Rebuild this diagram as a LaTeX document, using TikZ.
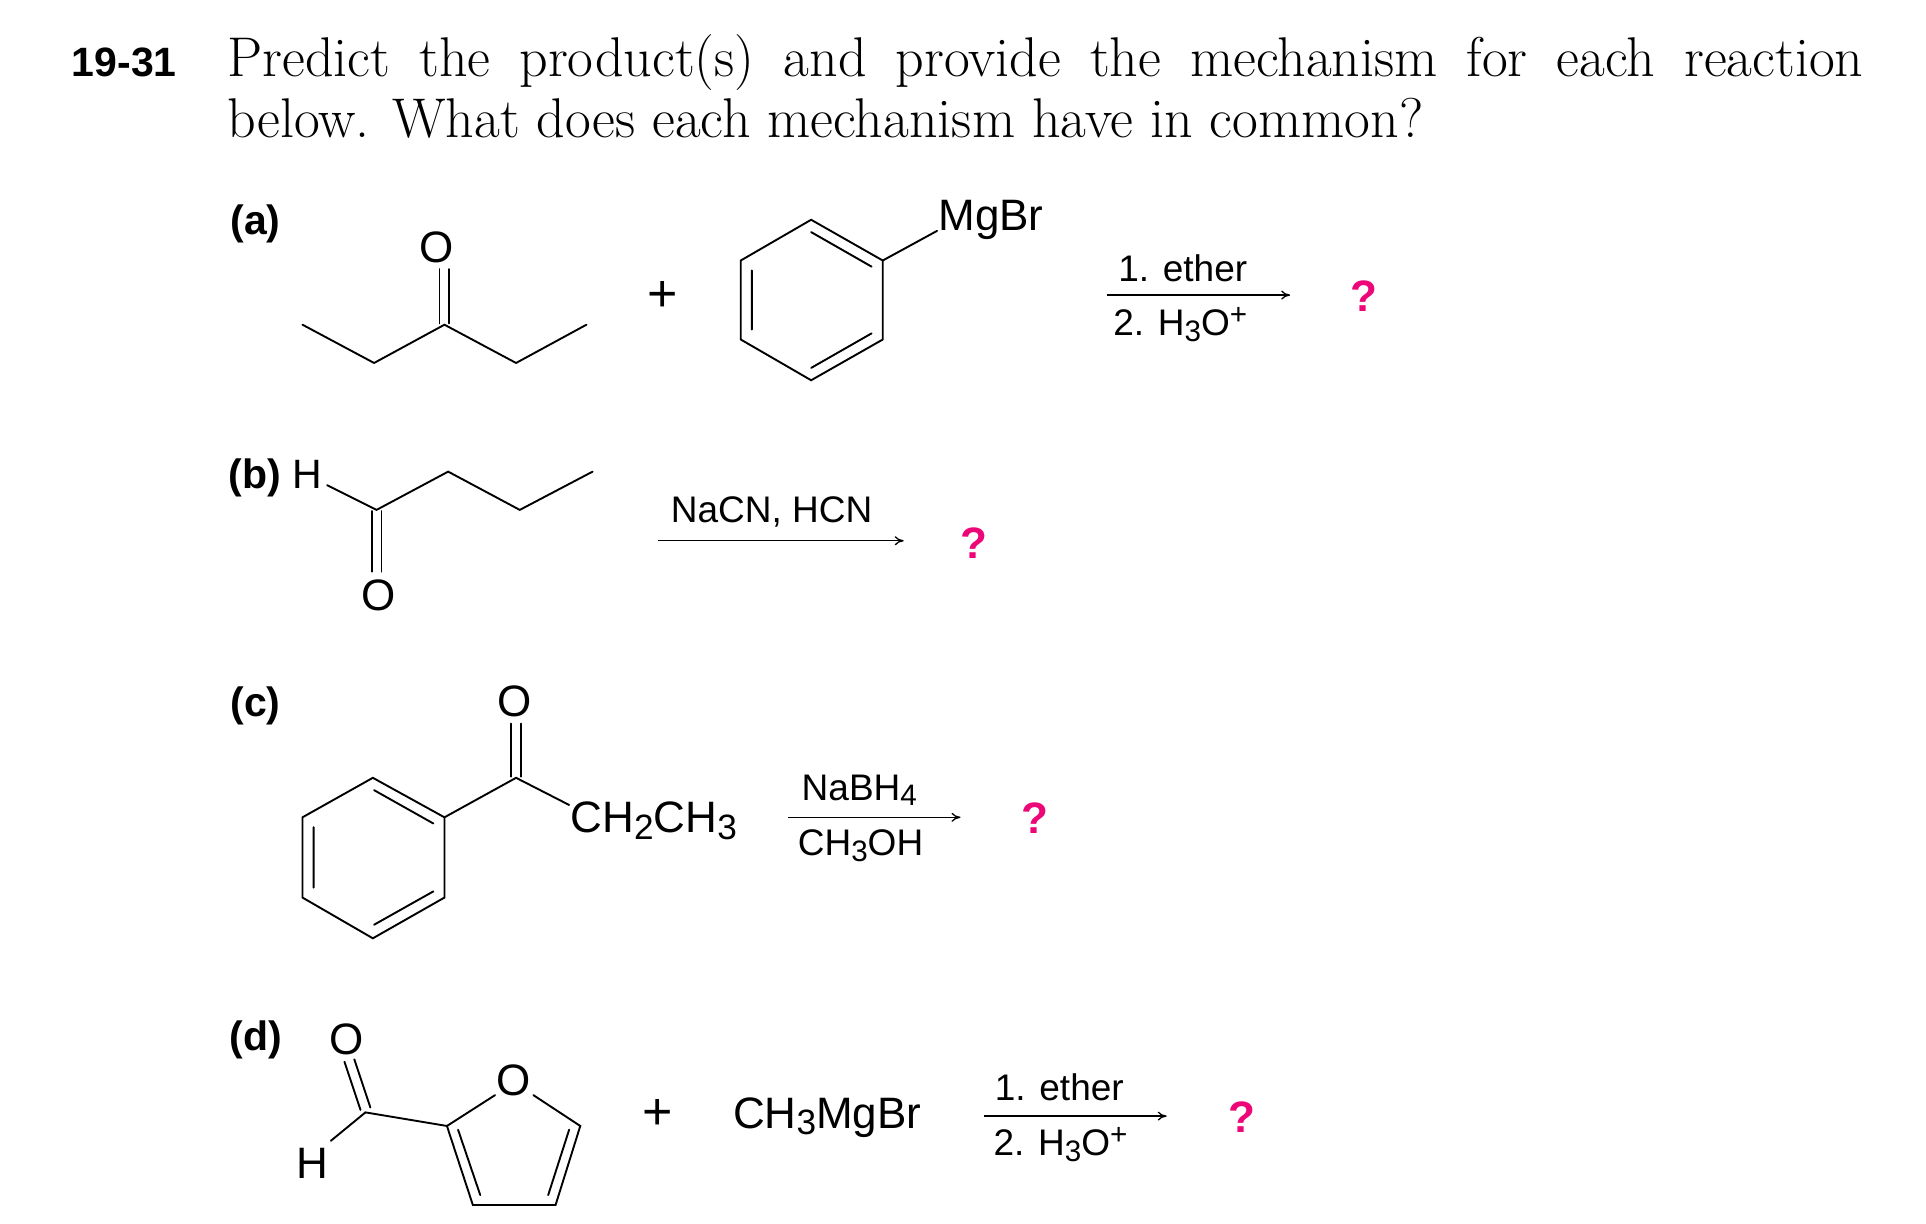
\documentclass[tikz,border=0pt]{standalone}
\usepackage{fontspec}
\usetikzlibrary{arrows.meta}
\setsansfont{Liberation Sans}
\newcommand{\sbs}[1]{\raisebox{-0.28ex}{\scalebox{0.8}{#1}}}
\newcommand{\sps}[1]{\raisebox{0.55ex}{\scalebox{0.8}{#1}}}
\begin{document}
\begin{tikzpicture}[x=1.2346pt,y=-1.2346pt,
  bond/.style={line width=1.9pt,line cap=round},
  lab/.style={font=\fontsize{44}{50}\sffamily,inner sep=0pt},
  plus/.style={font=\fontsize{52}{56}\sffamily,inner sep=0pt},
  rl/.style={font=\fontsize{37}{42}\sffamily,inner sep=0pt},
  q/.style={font=\fontsize{44}{48}\sffamily\bfseries,text=magenta!80!red,inner sep=0pt},
  part/.style={font=\fontsize{41}{46}\sffamily\bfseries,inner sep=0pt},
  rarrow/.style={line width=1.3pt,-{To[length=9pt,width=9pt]}}]
\useasboundingbox (0,0) rectangle (1560,991.4);
% title
\node[font=\fontsize{41}{46}\sffamily\bfseries,inner sep=0pt,anchor=base west] (num) at (58,62) {19-31};
\node[font=\fontsize{56}{60}\selectfont,inner sep=0pt,anchor=base west] (title1) at (184,62) {\makebox[1636pt][s]{Predict the product(s) and provide the mechanism for each reaction}};
\node[font=\fontsize{56}{60}\selectfont,inner sep=0pt,anchor=base west] (title2) at (184,111) {below. What does each mechanism have in common?};
% (a)
\node[part] (pa) at (207,181) {(a)};
\coordinate (a1) at (245,263); \coordinate (a2) at (303,294); \coordinate (a3) at (360,263);
\coordinate (a4) at (418,294); \coordinate (a5) at (475,263);
\draw[bond] (a1)--(a2)--(a3)--(a4)--(a5);
\node[lab] (ao) at (354,200) {O};
\draw[bond] (356,262)--(356,218) (364,262)--(364,218);
\node[plus] (plusa) at (537,240) {+};
\coordinate (b1) at (657,178); \coordinate (b2) at (715,211); \coordinate (b3) at (715,275);
\coordinate (b4) at (657,308); \coordinate (b5) at (600,275); \coordinate (b6) at (600,211);
\draw[bond] (b1)--(b2)--(b3)--(b4)--(b5)--(b6)--cycle;
\draw[bond] (657,188)--(706,216) (609,219)--(609,267) (706,270)--(657,298);
\node[lab,anchor=west] (mg) at (760,178) {MgBr};
\draw[bond] (b2)--(759,187);
\coordinate (ra1) at (897,239); \coordinate (ra2) at (1045,239);
\draw[rarrow] (ra1)--(ra2);
\node[rl] (ra3) at (958,217) {1. ether};
\node[rl] (ra4) at (956,263) {2. H\sbs{3}O\sps{+}};
\node[q] (qa) at (1105,240) {?};
% (b)
\node[part,anchor=west] (pb) at (185,387) {(b) \mdseries H};
\coordinate (c1) at (265,393); \coordinate (c2) at (305,413); \coordinate (c3) at (363,382);
\coordinate (c4) at (421,413); \coordinate (c5) at (480,382);
\draw[bond] (c1)--(c2)--(c3)--(c4)--(c5);
\draw[bond] (301,414)--(301,463) (309,414)--(309,463);
\node[lab] (bo) at (307,482) {O};
\coordinate (rb1) at (533,438); \coordinate (rb2) at (732,438);
\draw[rarrow] (rb1)--(rb2);
\node[rl] (rb3) at (625,415) {NaCN, HCN};
\node[q] (qb) at (789,440) {?};
% (c)
\node[part] (pc) at (207,572) {(c)};
\coordinate (d1) at (302,630); \coordinate (d2) at (360,662); \coordinate (d3) at (360,727);
\coordinate (d4) at (302,760); \coordinate (d5) at (245,727); \coordinate (d6) at (245,662);
\draw[bond] (d1)--(d2)--(d3)--(d4)--(d5)--(d6)--cycle;
\draw[bond] (303,640)--(351,667) (254,670)--(254,719) (351,722)--(303,749);
\coordinate (dc) at (418,630);
\draw[bond] (d2)--(dc)--(461,652);
\draw[bond] (414,629)--(414,586) (422,629)--(422,586);
\node[lab] (co) at (417,568) {O};
\node[lab,anchor=west] (ce) at (462,665) {CH\sbs{2}CH\sbs{3}};
\coordinate (rc1) at (638,662); \coordinate (rc2) at (778,662);
\draw[rarrow] (rc1)--(rc2);
\node[rl] (rc3) at (696,640) {NaBH\sbs{4}};
\node[rl] (rc4) at (697,685) {CH\sbs{3}OH};
\node[q] (qc) at (838,663) {?};
% (d)
\node[part] (pd) at (207,842) {(d)};
\node[lab] (dO) at (281,842) {O};
\coordinate (ec) at (296,901);
\draw[bond] (292,899)--(279,860) (300,897)--(287,858);
\draw[bond] (ec)--(268,924);
\node[lab] (dH) at (253,942) {H};
\coordinate (f1) at (362,912); \coordinate (f2) at (383,976); \coordinate (f3) at (450,976);
\coordinate (f4) at (470,912); \coordinate (f5) at (416,875);
\node[lab] (fO) at (416,875) {O};
\draw[bond] (ec)--(f1)--(f2)--(f3)--(f4)--(432,887);
\draw[bond] (f1)--(401,887);
\draw[bond] (371,915)--(389,968) (461,915)--(444,968);
\node[plus] (plusd) at (533,903) {+};
\node[lab] (grd) at (670,905) {CH\sbs{3}MgBr};
\coordinate (rd1) at (797,904); \coordinate (rd2) at (945,904);
\draw[rarrow] (rd1)--(rd2);
\node[rl] (rd3) at (858,881) {1. ether};
\node[rl] (rd4) at (859,927) {2. H\sbs{3}O\sps{+}};
\node[q] (qd) at (1006,905) {?};
\end{tikzpicture}
\end{document}
